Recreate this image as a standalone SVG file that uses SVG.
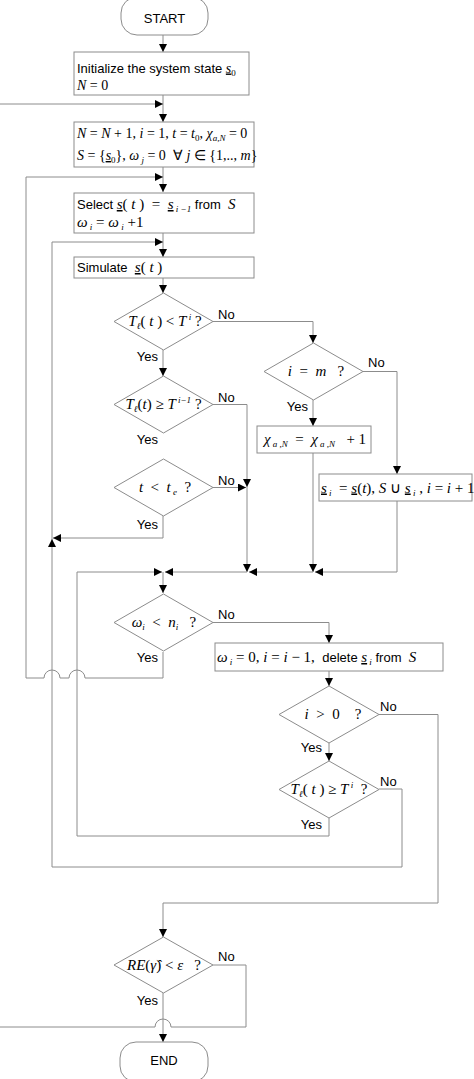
<svg xmlns="http://www.w3.org/2000/svg" width="474" height="1079" viewBox="0 0 474 1079">
<style>
.bx{fill:#fff;stroke:#8c8c8c;stroke-width:1}
.ln{fill:none;stroke:#8c8c8c;stroke-width:1}
.sans{font-family:"Liberation Sans",Arial,sans-serif;font-size:13px;font-style:normal;fill:#000}
.m{font-family:"Liberation Serif","Times New Roman",serif;font-style:italic;font-size:14px;fill:#000}
.b{font-size:15px}
.r{font-style:normal}
.sub{font-size:9px}
.mid{text-anchor:middle}
.end{text-anchor:end}
.u{text-decoration:underline}
</style>
<defs>
<marker id="ah" viewBox="0 0 10 10" refX="10" refY="5" markerWidth="9" markerHeight="8" markerUnits="userSpaceOnUse" orient="auto">
<path d="M0,0 L10,5 L0,10 z" fill="#000"/>
</marker>
</defs>
<rect width="474" height="1079" fill="#fff"/>
<g id="connectors">
<path class="ln" d="M163,35 V52" marker-end="url(#ah)"/>
<path class="ln" d="M163,95 V122" marker-end="url(#ah)"/>
<path class="ln" d="M213,965 H246 V1027 H171 A8,8 0 0 0 155,1027 H0"/>
<path class="ln" d="M0,104 H163" marker-end="url(#ah)"/>
<path class="ln" d="M163,167 V192" marker-end="url(#ah)"/>
<path class="ln" d="M163,652 V678 H85 A8,8 0 0 0 69,678 H60 A8,8 0 0 0 44,678 H26 V177 H163" marker-end="url(#ah)"/>
<path class="ln" d="M163,233 V257" marker-end="url(#ah)"/>
<path class="ln" d="M379,789 H402 V867 H52 V539" marker-end="url(#ah)"/>
<path class="ln" d="M52,539 V242 H163" marker-end="url(#ah)"/>
<path class="ln" d="M163,515 V538 H53" marker-end="url(#ah)"/>
<path class="ln" d="M163,278 V293" marker-end="url(#ah)"/>
<path class="ln" d="M213,321.5 H313 V343" marker-end="url(#ah)"/>
<path class="ln" d="M163,350 V376" marker-end="url(#ah)"/>
<path class="ln" d="M213,404.5 H247 V487" marker-end="url(#ah)"/>
<path class="ln" d="M213,487.5 H246" marker-end="url(#ah)"/>
<path class="ln" d="M247,487 V572" marker-end="url(#ah)"/>
<path class="ln" d="M313,453 V572" marker-end="url(#ah)"/>
<path class="ln" d="M397,501 V572 H315" marker-end="url(#ah)"/>
<path class="ln" d="M313,572 H249" marker-end="url(#ah)"/>
<path class="ln" d="M247,572 H165" marker-end="url(#ah)"/>
<path class="ln" d="M329,818 V836 H77 V572 H162" marker-end="url(#ah)"/>
<path class="ln" d="M163,572 V593" marker-end="url(#ah)"/>
<path class="ln" d="M363,371.5 H397 V474" marker-end="url(#ah)"/>
<path class="ln" d="M313,400 V426" marker-end="url(#ah)"/>
<path class="ln" d="M213,622.5 H329 V643" marker-end="url(#ah)"/>
<path class="ln" d="M329,671 V686" marker-end="url(#ah)"/>
<path class="ln" d="M379,714.5 H438 V903 H163 V937" marker-end="url(#ah)"/>
<path class="ln" d="M329,743 V761" marker-end="url(#ah)"/>
<path class="ln" d="M163,993 V1042" marker-end="url(#ah)"/>
</g>
<g id="start">
<rect class="bx" x="121" y="-3" width="87" height="38" rx="16"/>
<text class="sans mid" x="164.5" y="22.5">START</text>
</g>
<g id="init">
<rect class="bx" x="74" y="52" width="175" height="43"/>
<text class="sans" x="77" y="72.5">Initialize the system state <tspan class="m u">s</tspan><tspan class="m r sub" dy="3">0</tspan></text>
<text class="m" x="77" y="90">N<tspan class="r">&#160;=&#160;0</tspan></text>
</g>
<g id="reset">
<rect class="bx" x="74" y="122" width="180" height="45"/>
<text class="m" x="77" y="138">N<tspan class="r">&#160;=&#160;</tspan>N<tspan class="r">&#160;+&#160;1,&#160;</tspan>i<tspan class="r">&#160;=&#160;1,&#160;</tspan>t<tspan class="r">&#160;=&#160;</tspan>t<tspan class="r sub" dy="3">0</tspan><tspan class="r" dy="-3">,&#160;</tspan>χ<tspan class="sub" dy="3">a,N</tspan><tspan class="r" dy="-3">&#160;=&#160;0</tspan></text>
<text class="m" x="77" y="160">S<tspan class="r">&#160;=&#160;{</tspan><tspan class="u">s</tspan><tspan class="r sub" dy="3">0</tspan><tspan class="r" dy="-3">},&#160;</tspan>ω<tspan class="sub" dy="3">&#160;j</tspan><tspan class="r" dy="-3">&#160;=&#160;0&#160;&#160;∀&#160;</tspan>j<tspan class="r">&#160;∈&#160;{1,..,&#160;</tspan>m<tspan class="r">}</tspan></text>
</g>
<g id="select">
<rect class="bx" x="74" y="193" width="180" height="40"/>
<text class="sans" x="77" y="209">Select <tspan class="m b u">s</tspan><tspan class="m b r">(&#160;</tspan><tspan class="m b">t</tspan><tspan class="m b r">&#160;)&#160;&#160;=&#160;&#160;</tspan><tspan class="m b u">s</tspan><tspan class="m sub" dy="3">&#160;i&#160;−1</tspan><tspan dy="-3">&#160;from&#160;&#160;</tspan><tspan class="m b">S</tspan></text>
<text class="m b" x="77" y="227">ω<tspan class="sub" dy="3">&#160;i</tspan><tspan class="r" dy="-3">&#160;=&#160;</tspan>ω<tspan class="sub" dy="3">&#160;i</tspan><tspan class="r" dy="-3">&#160;+1</tspan></text>
</g>
<g id="simulate">
<rect class="bx" x="74" y="257" width="180" height="21"/>
<text class="sans" x="77" y="272">Simulate&#160;&#160;<tspan class="m b u">s</tspan><tspan class="m b r">(&#160;</tspan><tspan class="m b">t</tspan><tspan class="m b r">&#160;)</tspan></text>
</g>
<g id="d1">
<polygon class="bx" points="114,321.5 163.5,293 213,321.5 163.5,350"/>
<text class="m b mid" x="165" y="326">T<tspan class="sub" dy="3">ℓ</tspan><tspan class="r" dy="-3">(&#160;</tspan>t<tspan class="r">&#160;)&#160;&lt;&#160;</tspan>T<tspan class="sub" dy="-6">&#160;i</tspan><tspan class="r" dy="6">&#160;?</tspan></text>
<text class="sans" x="218" y="318.5">No</text>
<text class="sans end" x="158" y="361">Yes</text>
</g>
<g id="d2">
<polygon class="bx" points="264,371.5 313.5,343 363,371.5 313.5,400"/>
<text class="m b mid" x="316" y="376">i<tspan class="r">&#160;&#160;=&#160;&#160;</tspan>m<tspan class="r">&#160;&#160;&#160;?</tspan></text>
<text class="sans" x="368" y="367">No</text>
<text class="sans end" x="308" y="411">Yes</text>
</g>
<g id="d3">
<polygon class="bx" points="114,404.5 163.5,376 213,404.5 163.5,433"/>
<text class="m b mid" x="163.5" y="409">T<tspan class="sub" dy="3">ℓ</tspan><tspan class="r" dy="-3">(</tspan>t<tspan class="r">)&#160;≥&#160;</tspan>T<tspan class="sub" dy="-6">&#160;i−1</tspan><tspan class="r" dy="6">&#160;?</tspan></text>
<text class="sans" x="218" y="401.5">No</text>
<text class="sans end" x="158" y="444">Yes</text>
</g>
<g id="chi">
<rect class="bx" x="257" y="426" width="114" height="27"/>
<text class="m b mid" x="315" y="444">χ<tspan class="sub" dy="3">&#160;a&#160;,N</tspan><tspan class="r" dy="-3">&#160;&#160;=&#160;&#160;</tspan>χ<tspan class="sub" dy="3">&#160;a&#160;,N</tspan><tspan class="r" dy="-3">&#160;&#160;&#160;+&#160;1</tspan></text>
</g>
<g id="d4">
<polygon class="bx" points="114,487.5 163.5,459 213,487.5 163.5,516"/>
<text class="m b mid" x="165" y="492">t<tspan class="r">&#160;&#160;&lt;&#160;&#160;</tspan>t<tspan class="sub" dy="3">&#160;e</tspan><tspan class="r" dy="-3">&#160;&#160;?</tspan></text>
<text class="sans" x="218" y="485">No</text>
<text class="sans end" x="158" y="528.5">Yes</text>
</g>
<g id="store">
<rect class="bx" x="319" y="474" width="153" height="27"/>
<text class="m b" x="321" y="492.5"><tspan class="u">s</tspan><tspan class="sub" dy="3">&#160;i</tspan><tspan class="r" dy="-3">&#160;&#160;=&#160;</tspan><tspan class="u">s</tspan><tspan class="r">(</tspan>t<tspan class="r">),&#160;</tspan>S<tspan class="r">&#160;∪&#160;</tspan><tspan class="u">s</tspan><tspan class="sub" dy="3">&#160;i</tspan><tspan class="r" dy="-3">&#160;,&#160;</tspan>i<tspan class="r">&#160;=&#160;</tspan>i<tspan class="r">&#160;+&#160;1</tspan></text>
</g>
<g id="d5">
<polygon class="bx" points="114,622.5 163.5,594 213,622.5 163.5,651"/>
<text class="m b mid" x="164" y="627">ω<tspan class="sub" dy="3">i</tspan><tspan class="r" dy="-3">&#160;&#160;&lt;&#160;&#160;</tspan>n<tspan class="sub" dy="3">i</tspan><tspan class="r" dy="-3">&#160;&#160;&#160;?</tspan></text>
<text class="sans" x="218" y="618.5">No</text>
<text class="sans end" x="158" y="661.5">Yes</text>
</g>
<g id="delete">
<rect class="bx" x="215" y="643" width="228" height="28"/>
<text class="m b" x="217" y="662">ω<tspan class="sub" dy="3">&#160;i</tspan><tspan class="r" dy="-3">&#160;=&#160;0,&#160;</tspan>i<tspan class="r">&#160;=&#160;</tspan>i<tspan class="r">&#160;−&#160;1,&#160;</tspan><tspan class="sans">&#160;delete&#160;</tspan><tspan class="u">s</tspan><tspan class="sub" dy="3">&#160;i</tspan><tspan class="sans" dy="-3">&#160;from&#160;&#160;</tspan>S</text>
</g>
<g id="d6">
<polygon class="bx" points="279,714.5 329,686 379,714.5 329,743"/>
<text class="m b mid" x="333" y="719">i<tspan class="r">&#160;&#160;&gt;&#160;&#160;0&#160;&#160;&#160;&#160;?</tspan></text>
<text class="sans" x="380" y="710.5">No</text>
<text class="sans end" x="322" y="751.5">Yes</text>
</g>
<g id="d7">
<polygon class="bx" points="279,789.5 329,761 379,789.5 329,818"/>
<text class="m b mid" x="329" y="794">T<tspan class="sub" dy="3">ℓ</tspan><tspan class="r" dy="-3">(&#160;</tspan>t<tspan class="r">&#160;)&#160;≥&#160;</tspan>T<tspan class="sub" dy="-6">&#160;i</tspan><tspan class="r" dy="6">&#160;&#160;?</tspan></text>
<text class="sans" x="380" y="786">No</text>
<text class="sans end" x="322" y="828.5">Yes</text>
</g>
<g id="d8">
<polygon class="bx" points="114,965 163.5,937 213,965 163.5,993"/>
<text class="m b mid" x="164" y="970">RE<tspan class="r">(</tspan>γ̂<tspan class="r">)&#160;&lt;&#160;</tspan>ε<tspan class="r">&#160;&#160;&#160;?</tspan></text>
<text class="sans" x="218" y="960.5">No</text>
<text class="sans end" x="158" y="1004.5">Yes</text>
</g>
<g id="end">
<rect class="bx" x="120" y="1042" width="88" height="40" rx="16"/>
<text class="sans mid" x="164" y="1064.5">END</text>
</g>
</svg>
